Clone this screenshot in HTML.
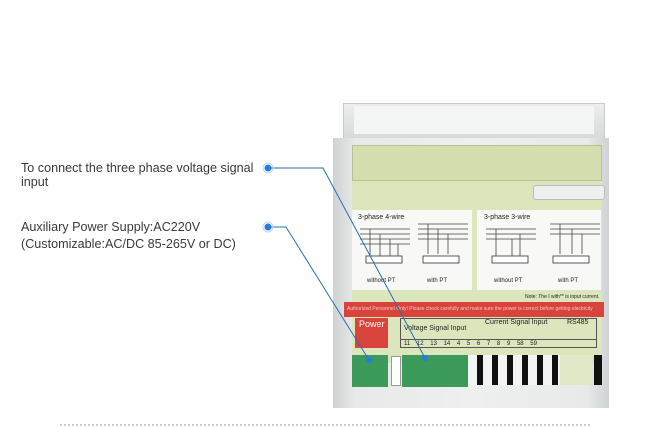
<!DOCTYPE html>
<html><head><style>
body{margin:0;width:650px;height:429px;background:#fff;position:relative;overflow:hidden;font-family:"Liberation Sans",sans-serif}
div{position:absolute;box-sizing:border-box}
.t{font-size:12.6px;color:#3a3a3a;line-height:14px;white-space:nowrap}
.s{font-size:6px;color:#222;white-space:nowrap}
</style></head><body>
<!-- device -->
<div style="left:343px;top:103px;width:262px;height:40px;background:linear-gradient(#eceeee,#d6d8d8);border:1px solid #c8caca"></div>
<div style="left:354px;top:106px;width:240px;height:28px;background:#f4f5f5"></div>
<div style="left:333px;top:138px;width:276px;height:270px;background:linear-gradient(90deg,#cfd2d2,#e8eaea 8%,#eef0f0 50%,#e8eaea 92%,#cfd2d2)"></div>
<div style="left:352px;top:145px;width:250px;height:218px;background:#dbe6bd"></div>
<div style="left:352px;top:145px;width:250px;height:36px;background:#d3dfae;border:1px solid #b7c28f"></div>
<div style="left:533px;top:185px;width:72px;height:15px;background:#eef0f0;border:1px solid #bbb;border-radius:3px"></div>
<div style="left:352px;top:210px;width:120px;height:80px;background:#f8f9f6"></div>
<div style="left:477px;top:210px;width:124px;height:80px;background:#f8f9f6"></div>
<div class="s" style="left:358px;top:214px;font-size:7px">3-phase 4-wire</div>
<div class="s" style="left:484px;top:214px;font-size:7px">3-phase 3-wire</div>
<svg style="position:absolute;left:0;top:0" width="650" height="429">
<g stroke="#444" stroke-width="0.8" fill="none">
<path d="M360 229h50M360 234h50M360 239h50M360 244h50M370 229v27M380 234v22M390 239v17M398 244v12"/>
<path d="M418 224h50M418 229h50M418 234h50M418 239h50M428 224v30M438 229v25M448 234v20"/>
<path d="M486 229h50M486 234h50M486 239h50M496 229v27M512 239v17M520 234v22"/>
<path d="M550 224h50M550 229h50M550 234h50M560 224v30M572 229v25M582 234v20"/>
</g>
<g fill="#fff" stroke="#333" stroke-width="0.8">
<rect x="366" y="256" width="36" height="7"/><rect x="423" y="256" width="36" height="7"/>
<rect x="492" y="256" width="36" height="7"/><rect x="553" y="256" width="36" height="7"/>
</g>
</svg>
<div class="s" style="left:367px;top:278px">without PT</div>
<div class="s" style="left:427px;top:278px">with PT</div>
<div class="s" style="left:494px;top:278px">without PT</div>
<div class="s" style="left:558px;top:278px">with PT</div>
<div class="s" style="left:525px;top:294px;font-size:5px">Note: The I with** is input current.</div>
<div style="left:344px;top:302px;width:260px;height:15px;background:#d8433c"></div>
<div class="s" style="left:347px;top:306px;color:#f6c8c0;font-size:5px">Authorized Personnel Only! Please check carefully and make sure the power is correct before getting electricity</div>
<div style="left:355px;top:318px;width:33px;height:30px;background:#d8433c"></div>
<div class="s" style="left:359px;top:319px;color:#fff;font-size:9px">Power</div>
<div style="left:400px;top:318px;width:197px;height:30px;border:1px solid #555;background:#dbe6bd"></div>
<div style="left:400px;top:339px;width:197px;height:1px;background:#555"></div>
<div class="s" style="left:404px;top:325px;font-size:7px">Voltage Signal Input</div>
<div class="s" style="left:485px;top:319px;font-size:7px">Current Signal Input</div>
<div class="s" style="left:567px;top:319px;font-size:7px">RS485</div>
<div class="s" style="left:404px;top:341px;font-size:6px;word-spacing:5px">11 12 13 14 4 5 6 7 8 9 58 59</div>
<!-- terminals -->
<div style="left:352px;top:355px;width:36px;height:32px;background:#3c9a5a"></div>
<div style="left:391px;top:356px;width:10px;height:30px;background:#fff;border:1px solid #999"></div>
<div style="left:402px;top:355px;width:66px;height:32px;background:#3c9a5a"></div>
<div style="left:468px;top:355px;width:92px;height:30px;background:repeating-linear-gradient(90deg,#f4f4f4 0 9px,#111 9px 15px)"></div>
<div style="left:560px;top:355px;width:32px;height:30px;background:#e0e8c8"></div>
<div style="left:594px;top:355px;width:8px;height:30px;background:#111"></div>
<!-- callouts -->
<div class="t" style="left:21px;top:161px">To connect the three phase voltage signal<br>input</div>
<div class="t" style="left:21px;top:219px;line-height:17px">Auxiliary Power Supply:AC220V<br>(Customizable:AC/DC 85-265V or DC)</div>
<svg style="position:absolute;left:0;top:0" width="650" height="429">
<g stroke="#2a6fb0" stroke-width="1" fill="none">
<path d="M268 168H323L425 358"/><path d="M268 227H286L369 360"/>
</g>
<g fill="#2a7be0"><circle cx="268" cy="168" r="3.5"/><circle cx="268" cy="227" r="3.5"/><circle cx="425" cy="358" r="3"/><circle cx="369" cy="360" r="3"/></g>
<g fill="none" stroke="#bfd8f5"><circle cx="268" cy="168" r="5"/><circle cx="268" cy="227" r="5"/></g>
<line x1="60" y1="425" x2="590" y2="425" stroke="#999" stroke-dasharray="2 2"/>
</svg>
</body></html>
